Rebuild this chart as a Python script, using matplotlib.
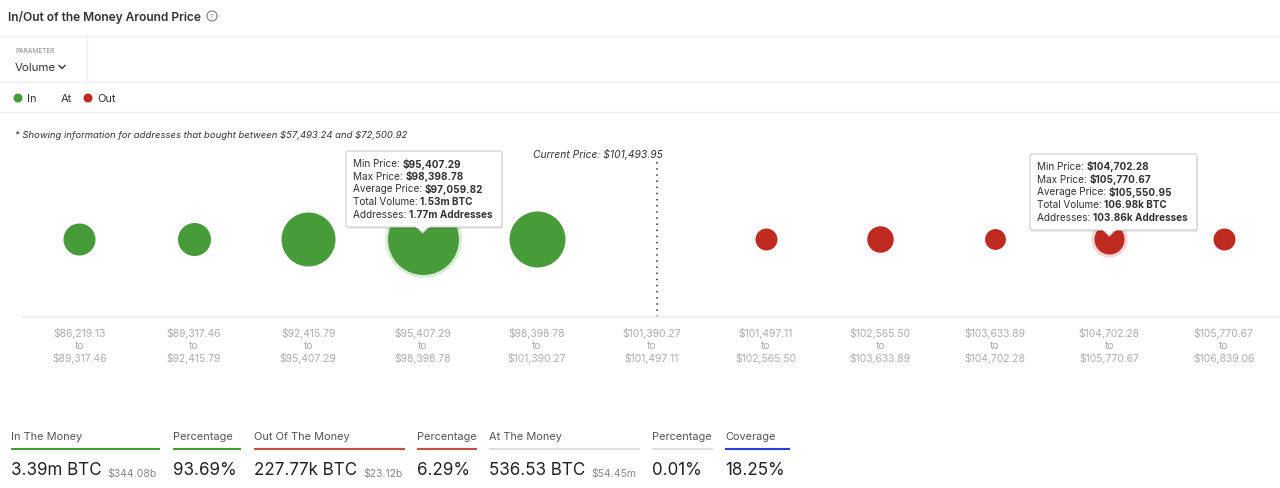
import numpy as np
import matplotlib
matplotlib.use('Agg')
import matplotlib.pyplot as plt
from matplotlib.patches import FancyBboxPatch, Circle, Polygon

plt.rcParams['font.family'] = ['Inter', 'DejaVu Sans']

# ---------------- data ----------------
bucket_low = [86219.13, 89317.46, 92415.79, 95407.29, 98398.78, 101390.27,
              101497.11, 102565.50, 103633.89, 104702.28, 105770.67]
bucket_high = [89317.46, 92415.79, 95407.29, 98398.78, 101390.27, 101497.11,
               102565.50, 103633.89, 104702.28, 105770.67, 106839.06]
bucket_status = ['in', 'in', 'in', 'in', 'in', 'at', 'out', 'out', 'out', 'out', 'out']
volume_btc = [138e3, 155e3, 740e3, 1.53e6, 818e3, 536.53, 22e3, 62e3, 15e3, 106.98e3, 22e3]

current_price = 101493.95
current_bucket = 5
bought_low, bought_high = 57493.24, 72500.92

hover_idx = [3, 9]
hover_avg_price = [97059.82, 105550.95]
hover_addresses = [1.77e6, 103.86e3]

summary_labels = ['In The Money', 'Out Of The Money', 'At The Money']
summary_btc = [3.39e6, 227.77e3, 536.53]
summary_usd = [344.08e9, 23.12e9, 54.45e6]
summary_pct = [93.69, 6.29, 0.01]
coverage_pct = 18.25

# ---------------- style ----------------
W, H = 1280, 489
GREEN = '#479c39'
RED = '#bf2a20'
BLUE = '#2a3fd6'
TXT = '#333333'
LINE = '#efefef'
D = r'\$'


def pt(px):
    return px * 0.72


def fmt_amt(v):
    if v >= 1e9:
        return f'{v/1e9:.2f}b'
    if v >= 1e6:
        return f'{v/1e6:.2f}m'
    if v >= 1e3:
        return f'{v/1e3:.2f}k'
    return f'{v:.2f}'


fig = plt.figure(figsize=(W / 100, H / 100), dpi=100, facecolor='white')

# ---------------- bubble chart ----------------
ax_top, ax_bot, ax_l, ax_r = 162, 318, 22, 1281
ax = fig.add_axes([ax_l / W, (H - ax_bot) / H, (ax_r - ax_l) / W, (ax_bot - ax_top) / H])
ax.set_xlim(-0.5, len(bucket_low) - 0.5)
ax.set_ylim(-1, 1)
for s in ['top', 'left', 'right']:
    ax.spines[s].set_visible(False)
ax.spines['bottom'].set_color('#eeeeee')
ax.spines['bottom'].set_linewidth(1.2)
ax.set_yticks([])
ax.set_xticks(range(len(bucket_low)))
ax.set_xticklabels([f'{D}{lo:,.2f}\nto\n{D}{hi:,.2f}' for lo, hi in zip(bucket_low, bucket_high)])
ax.tick_params(axis='x', length=0, pad=pt(10), labelsize=pt(10.3), labelcolor='#adadad')
for lbl in ax.get_xticklabels():
    lbl.set_linespacing(1.22)
ax.patch.set_alpha(0)

vol = np.array(volume_btc)
diam_px = 15.3 + 45 * np.sqrt(vol / 1e6)
colors = {'in': GREEN, 'out': RED}
for i, (st, d) in enumerate(zip(bucket_status, diam_px)):
    if st == 'at':
        continue
    c = colors[st]
    if i in hover_idx:
        ax.scatter([i], [0], s=pt(d + 6) ** 2, color=c, alpha=0.2, linewidths=0, zorder=2)
    ax.scatter([i], [0], s=pt(d) ** 2, color=c, linewidths=0, zorder=3)

ax.axvline(current_bucket + 0.05, ymin=0, ymax=1, color='#444444', lw=1.3,
           linestyle=(0, (0.8, 2.6)), zorder=1)

# ---------------- overlay (pixel coords) ----------------
ov = fig.add_axes([0, 0, 1, 1])
ov.set_xlim(0, W)
ov.set_ylim(H, 0)
ov.axis('off')
ov.patch.set_alpha(0)

# header
ov.text(8, 17, 'In/Out of the Money Around Price', fontsize=pt(12), fontweight='semibold',
        color=TXT, va='center', ha='left')
ov.add_patch(Circle((212, 17), 5, fill=False, ec='#888888', lw=0.9))
ov.text(212, 17.3, '?', fontsize=pt(7.5), color='#888888', ha='center', va='center')
for y in [37, 83, 113]:
    ov.plot([0, W], [y, y], color=LINE, lw=1)
ov.plot([87, 87], [37, 83], color=LINE, lw=1)
ov.text(15, 51, 'PARAMETER', fontsize=pt(6.5), color='#888888', va='center')
ov.text(15, 68, 'Volume', fontsize=pt(11.5), color=TXT, va='center')
ov.plot([59, 62, 65], [66.5, 69.5, 66.5], color=TXT, lw=1.0)

# legend
ov.add_patch(Circle((18, 99), 4.5, color=GREEN, lw=0))
ov.text(27, 99, 'In', fontsize=pt(11), color=TXT, va='center')
ov.text(61, 99, 'At', fontsize=pt(11), color=TXT, va='center')
ov.add_patch(Circle((88, 99), 4.5, color=RED, lw=0))
ov.text(97, 99, 'Out', fontsize=pt(11), color=TXT, va='center')

ov.text(15, 135, f'* Showing information for addresses that bought between {D}{bought_low:,.2f} and {D}{bought_high:,.2f}',
        fontsize=pt(9.5), style='italic', color=TXT, va='center')

ov.text(663, 154, f'Current Price: {D}{current_price:,.2f}', fontsize=pt(10.3), style='italic',
        color=TXT, va='center', ha='right')


# tooltips
def tooltip(x0, y0, w, h, px, rows):
    ov.add_patch(FancyBboxPatch((x0 + 1, y0 + 2), w, h, boxstyle='round,pad=0,rounding_size=2',
                                fc='#000000', ec='none', alpha=0.08, zorder=5))
    ov.add_patch(FancyBboxPatch((x0, y0), w, h, boxstyle='round,pad=0,rounding_size=2',
                                fc='white', ec='#cccccc', lw=0.8, zorder=6))
    ov.add_patch(Polygon([[px - 6, y0 + h], [px, y0 + h + 6], [px + 6, y0 + h]], closed=True,
                         fc='white', ec='#cccccc', lw=0.8, zorder=6))
    ov.plot([px - 5.3, px + 5.3], [y0 + h, y0 + h], color='white', lw=1.4, zorder=7)
    for k, (lab, val) in enumerate(rows):
        yy = y0 + 12 + k * 12.7
        t = ov.text(x0 + 7, yy, lab + ' ', fontsize=pt(10), color=TXT, va='center', zorder=8)
        ov.annotate(val, xy=(1, 0.5), xycoords=t, va='center', ha='left', fontsize=pt(10),
                    fontweight='bold', color=TXT, zorder=8)


tip_boxes = [(346, 152, 156, 76), (1030, 155, 167, 76)]
cx_px = lambda i: ax_l + (i + 0.5) * (ax_r - ax_l) / len(bucket_low)
for (x0, y0, w, h), i, avg, addr in zip(tip_boxes, hover_idx, hover_avg_price, hover_addresses):
    rows = [('Min Price:', f'{D}{bucket_low[i]:,.2f}'),
            ('Max Price:', f'{D}{bucket_high[i]:,.2f}'),
            ('Average Price:', f'{D}{avg:,.2f}'),
            ('Total Volume:', f'{fmt_amt(volume_btc[i])} BTC'),
            ('Addresses:', f'{fmt_amt(addr)} Addresses')]
    tooltip(x0, y0, w, h, cx_px(i), rows)

# footer summary
cols = [
    (11, 160, summary_labels[0], GREEN, f'{fmt_amt(summary_btc[0])} BTC', f'{D}{fmt_amt(summary_usd[0])}'),
    (173, 241, 'Percentage', GREEN, f'{summary_pct[0]:.2f}%', None),
    (254, 405, summary_labels[1], '#c0503f', f'{fmt_amt(summary_btc[1])} BTC', f'{D}{fmt_amt(summary_usd[1])}'),
    (417, 477, 'Percentage', '#c0503f', f'{summary_pct[1]:.2f}%', None),
    (489, 640, summary_labels[2], '#dddddd', f'{fmt_amt(summary_btc[2])} BTC', f'{D}{fmt_amt(summary_usd[2])}'),
    (652, 713, 'Percentage', '#dddddd', f'{summary_pct[2]:.2f}%', None),
    (725, 790, 'Coverage', BLUE, f'{coverage_pct:.2f}%', None),
]
for x0, x1, lab, col, big, small in cols:
    ov.text(x0, 437, lab, fontsize=pt(11), color='#555555', va='center')
    ov.plot([x0, x1], [450, 450], color=col, lw=1.5, solid_capstyle='butt')
    t = ov.text(x0, 475, big, fontsize=pt(17), color='#222222', va='baseline')
    if small:
        ov.annotate(small, xy=(1, 0), xycoords=t, xytext=(pt(6), 0), textcoords='offset points',
                    va='bottom', fontsize=pt(10.5), color='#888888')

fig.savefig('out.png', dpi=100, facecolor='white')
